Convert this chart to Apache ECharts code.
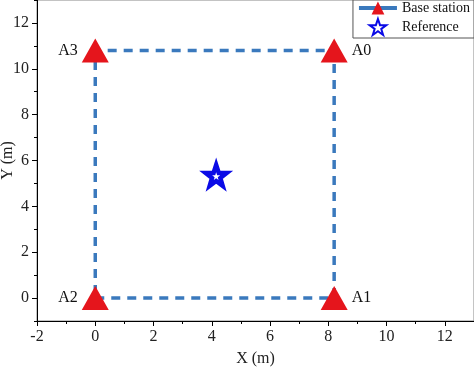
<!DOCTYPE html>
<html><head><meta charset="utf-8">
<script src="https://cdn.jsdelivr.net/npm/echarts@6/dist/echarts.min.js"></script>
<style>html,body{margin:0;padding:0;background:#fff}#c{width:474px;height:389px}</style>
</head><body><div id="c"></div>
<script>
const stationNames = ['A2','A1','A0','A3'];
const stationX = [0, 8.2, 8.2, 0];
const stationY = [0, 0, 10.8, 10.8];
const refX = [4.15];
const refY = [5.35];
const xTicks = [-2,0,2,4,6,8,10,12];
const yTicks = [0,2,4,6,8,10,12];
const yMinorTicks = [-1,1,3,5,7,9,11,13];

const loop = stationX.map((x,i)=>[x, stationY[i]]);
loop.push([stationX[0], stationY[0]]);
const labelPos = {A0:'right',A1:'right',A2:'left',A3:'left'};
const stationData = stationX.map((x,i)=>({value:[x,stationY[i]], name:stationNames[i],
  label:{show:true, formatter:stationNames[i], position:labelPos[stationNames[i]], distance:4}}));
const starPath = 'path://M50,0 L61.8,35.1 L97.6,35.1 L68.8,56.8 L79.4,91 L50,70 L20.6,91 L31.2,56.8 L2.4,35.1 L38.2,35.1 Z';
const serif = 'Liberation Serif, Times New Roman, serif';

const chart = echarts.init(document.getElementById('c'));
const lab = {color:'#222', fontFamily:serif, fontSize:16};
chart.setOption({
  animation:false,
  grid:{left:37, right:0, top:0, bottom:68, show:true, borderColor:'#888', borderWidth:1,
        containLabel:false, outerBoundsMode:'none'},
  legend:{
    right:0, top:0, orient:'vertical', itemGap:3, itemWidth:38, itemHeight:16,
    backgroundColor:'#fff', borderColor:'#555', borderWidth:1, padding:[1,4,2,4],
    textStyle:{fontFamily:serif, fontSize:14, color:'#111'},
    data:[{name:'Base station', lineStyle:{type:'solid', width:4}},{name:'Reference'}]
  },
  xAxis:{type:'value', min:-2, max:13, interval:2, name:'X (m)', nameLocation:'middle', nameGap:30,
    nameMoveOverlap:false,
    nameTextStyle:lab,
    axisLine:{show:true, onZero:false, lineStyle:{color:'#000', width:1}},
    axisTick:{show:true, length:5, lineStyle:{color:'#000'}},
    minorTick:{show:true, splitNumber:2, length:3, lineStyle:{color:'#000'}},
    splitLine:{show:false},
    axisLabel:Object.assign({margin:8, customValues:xTicks}, lab)},
  yAxis:[
    {type:'value', min:-1, max:13, name:'Y (m)', nameLocation:'middle', nameGap:21,
     nameMoveOverlap:false,
     nameTextStyle:lab,
     axisLine:{show:true, onZero:false, lineStyle:{color:'#000', width:1}},
     axisTick:{show:true, length:5, customValues:yTicks, lineStyle:{color:'#000'}},
     splitLine:{show:false},
     axisLabel:Object.assign({margin:8, customValues:yTicks}, lab)},
    {type:'value', min:-1, max:13, position:'left', offset:0,
     axisLine:{show:false, onZero:false},
     axisTick:{show:true, length:3, customValues:yMinorTicks, lineStyle:{color:'#000'}},
     splitLine:{show:false},
     axisLabel:{show:false}}
  ],
  series:[
    {name:'Base station', type:'line', data:loop, symbol:'triangle', symbolSize:[26,24], showSymbol:false, z:2,
     lineStyle:{color:'#3a79bd', width:3.5, type:[9,7]}, itemStyle:{color:'#e5151c'}},
    {name:'Base station', type:'scatter', data:stationData, symbol:'triangle', symbolSize:[27,24], z:3,
     itemStyle:{color:'#e5151c', opacity:1},
     label:{color:'#111', fontFamily:serif, fontSize:16}},
    {name:'Reference', type:'scatter', data:refX.map((x,i)=>[x,refY[i]]), symbol:starPath, symbolSize:21, z:4,
     itemStyle:{color:'#fff', borderColor:'#0a0ae6', borderWidth:4.5, opacity:1}}
  ]
});
</script></body></html>
